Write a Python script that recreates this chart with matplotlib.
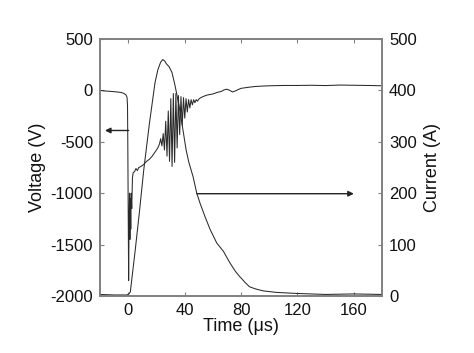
import matplotlib.pyplot as plt

plt.rcParams["font.family"] = ["Liberation Sans", "DejaVu Sans"]
plt.rcParams["axes.unicode_minus"] = False

# voltage trace (us, V)
t_v = [-20, -17, -12, -8, -5, -3, -1.5, -0.8, -0.5, -0.3, 0.0, 0.3, 0.6, 0.9, 1.2, 1.5,
       1.8, 2.1, 2.5, 3.0, 3.5, 4.5, 5.5, 6.5, 7.5, 9, 11, 13, 15, 17, 19, 21, 22.2,
       23.0, 23.9, 24.8, 25.7, 26.6, 27.5, 28.4, 29.3, 30.2, 31.1, 32.0, 32.9, 33.8,
       34.7, 35.6, 36.5, 37.4, 38.3, 39.2, 40.1, 41.0, 41.9, 42.8, 43.7, 44.6, 45.5,
       46.4, 47.3, 48.2, 49.1, 50, 51, 53, 56, 60, 63, 66, 68, 70, 72, 74, 76, 78, 80,
       85, 90, 95, 100, 110, 120, 130, 140, 150, 160, 170, 180]
voltage = [0, -5, -10, -15, -20, -30, -45, -70, -150, -500, -1200, -1850, -1300, -1000,
           -1450, -1050, -1350, -1000, -1150, -850, -800, -790, -760, -780, -750, -740,
           -720, -690, -670, -640, -600, -560, -520,
           -470, -540, -420, -580, -300, -640, -200, -690, -80, -740, -30, -700, -30,
           -560, -50, -430, -60, -340, -70, -270, -80, -210, -90, -170, -90, -140,
           -90, -120, -90, -105, -85, -75, -60, -45, -35, -20, -10, 5, 12, 0, -15, -5,
           8, 20, 30, 38, 42, 45, 48, 48, 50, 47, 52, 50, 48, 45]

# current trace (us, A)
t_i = [-20, -10, -1, 0.5, 1.5, 5, 8, 11, 13, 15, 17, 19, 21, 23, 24.5, 26, 27, 29, 31,
       33, 35, 37, 39, 41, 43, 46, 48.6, 51, 54.5, 58, 62.8, 67.5, 72, 76, 79, 83, 86,
       90, 95.6, 105, 119, 140, 160, 180]
current = [3, 2, 2, 4, 8, 90, 165, 245, 290, 335, 375, 415, 440, 455, 460, 457, 452,
           446, 435, 412, 385, 355, 320, 285, 260, 232, 200, 180, 154, 130, 103, 87, 65,
           48, 38, 26, 18, 14, 10, 7, 5, 3, 4, 3]

# axis-indicator arrows: (start t, end t, level in V)
arrow_v = [0.3, -16.5, -390]
arrow_i = [48.6, 160, -1005]

fig = plt.figure(figsize=(4.74, 3.53), dpi=100)
ax = fig.add_axes([0.211, 0.1615, 0.595, 0.728])
ax2 = ax.twinx()

ax.plot(t_v, voltage, color="#2a2a2a", lw=0.75)
ax2.plot(t_i, current, color="#2a2a2a", lw=0.75)

ax.annotate("", xy=(arrow_v[1], arrow_v[2]), xytext=(arrow_v[0], arrow_v[2]),
            arrowprops=dict(arrowstyle="-|>", color="#222222", lw=1.0,
                            mutation_scale=8, shrinkA=0, shrinkB=0))
ax.annotate("", xy=(arrow_i[1], arrow_i[2]), xytext=(arrow_i[0], arrow_i[2]),
            arrowprops=dict(arrowstyle="-|>", color="#222222", lw=1.0,
                            mutation_scale=8, shrinkA=0, shrinkB=0))

ax.set_xlim(-20, 180)
ax.set_ylim(-2000, 500)
ax2.set_ylim(0, 500)
ax.set_xticks([0, 40, 80, 120, 160])
ax.set_yticks([-2000, -1500, -1000, -500, 0, 500])
ax2.set_yticks([0, 100, 200, 300, 400, 500])

for a in (ax, ax2):
    for s in a.spines.values():
        s.set_color("#808080")
        s.set_linewidth(1.2)
ax.tick_params(direction="in", length=3, color="#808080", labelsize=12,
               labelcolor="#111111", top=True, pad=5)
ax2.tick_params(direction="in", length=3, color="#808080", labelsize=12,
                labelcolor="#111111", pad=5)

ax.set_xlabel("Time (\u03bcs)", fontsize=13, labelpad=0, color="#111111")
ax.set_ylabel("Voltage (V)", fontsize=13, labelpad=3, color="#111111")
ax2.set_ylabel("Current (A)", fontsize=13, labelpad=5, color="#111111")

fig.savefig("out.png", dpi=100)
